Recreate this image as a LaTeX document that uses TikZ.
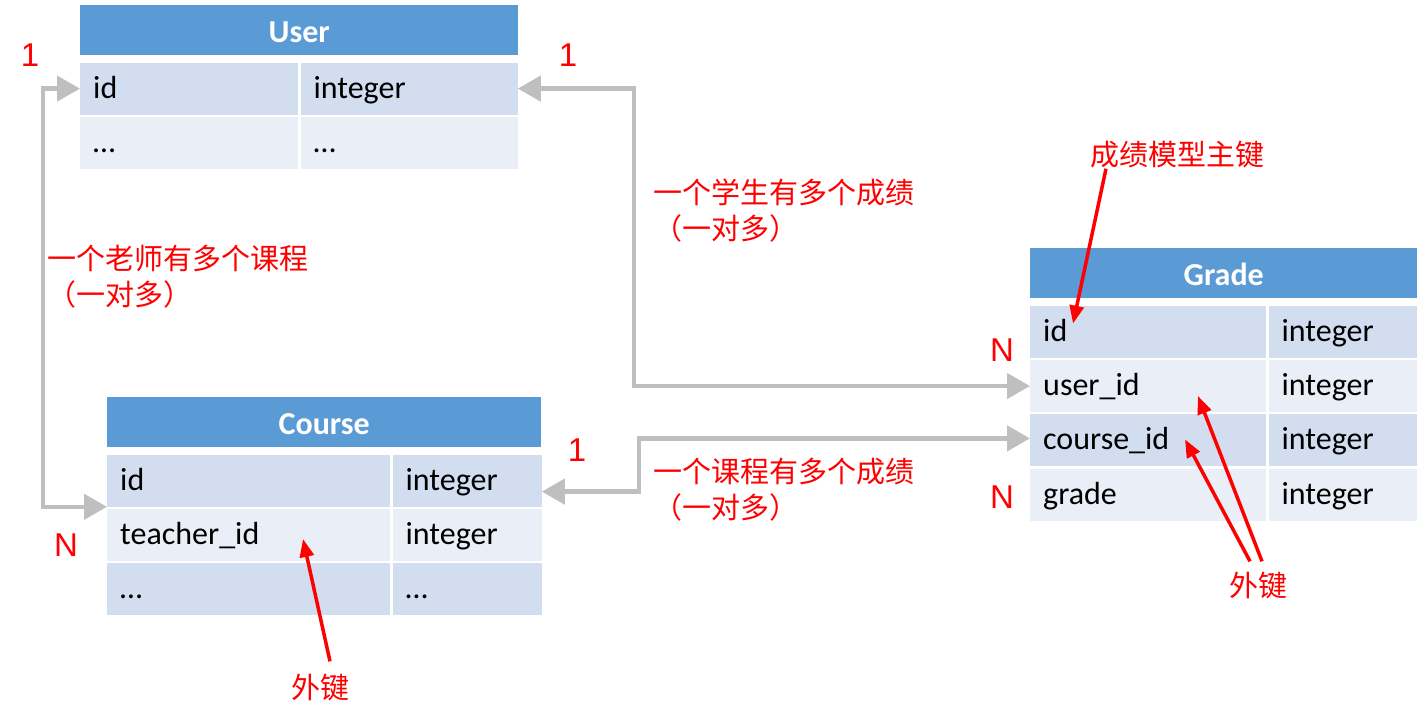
\documentclass[tikz,border=0pt]{standalone}
\usepackage{fontspec}
\setmainfont{Carlito}
\newfontfamily\cjk{Noto Sans CJK SC}
\newfontfamily\numfont{Liberation Sans}
\usetikzlibrary{arrows.meta,positioning}

\definecolor{hdrblue}{HTML}{5B9BD5}
\definecolor{rowdark}{HTML}{D2DEEF}
\definecolor{rowlight}{HTML}{EAEFF7}
\definecolor{linkgray}{HTML}{BFBFBF}

\begin{document}
\begin{tikzpicture}[
    x=1pt, y=-1pt,
    font=\fontsize{32}{38}\selectfont,
    % --- node styles ---
    hdr/.style = {rectangle, fill=hdrblue, text=white,
                  font=\fontsize{32}{38}\selectfont\bfseries,
                  minimum height=50pt, text height=24pt, text depth=0pt,
                  inner sep=0pt, anchor=north west},
    cell/.style = {rectangle, align=left,
                   inner xsep=13pt, inner ysep=0pt,
                   minimum height=52pt,
                   text height=24pt, text depth=5pt},
    link/.style = {{Triangle[length=23pt,width=25pt]}-{Triangle[length=23pt,width=25pt]},
                   draw=linkgray, line width=4.5pt},
    fkarrow/.style = {-{Triangle[length=18pt,width=14pt]}, draw=red, line width=3.5pt},
    notelbl/.style = {text=red, inner sep=0pt, font=\cjk\fontsize{29}{36}\selectfont},
    relnote/.style = {notelbl, align=left, anchor=west},
    card/.style = {text=red, inner sep=0pt, font=\numfont\fontsize{33}{36}\selectfont},
]

\path[use as bounding box, fill=white] (0,0) rectangle (1423,720);

%============ USER ============
\node (user) [hdr, minimum width=438pt] at (80,5) {User};
\node (user-1-1) [cell, fill=rowdark, text width=192pt,
                  below right=7pt and 0pt of user.south west] {id};
\node (user-1-2) [cell, fill=rowdark, text width=191pt, right=2pt of user-1-1] {integer};
\node (user-2-1) [cell, fill=rowlight, text width=192pt, below=2pt of user-1-1] {\ldots};
\node (user-2-2) [cell, fill=rowlight, text width=191pt, right=2pt of user-2-1] {\ldots};

%============ COURSE ============
\node (course) [hdr, minimum width=434pt] at (107,397) {Course};
\node (course-1-1) [cell, fill=rowdark, text width=257pt,
                    below right=7pt and 0pt of course.south west] {id};
\node (course-1-2) [cell, fill=rowdark, text width=123pt, right=2pt of course-1-1] {integer};
\node (course-2-1) [cell, fill=rowlight, text width=257pt, below=2pt of course-1-1] {teacher\_id};
\node (course-2-2) [cell, fill=rowlight, text width=123pt, right=2pt of course-2-1] {integer};
\node (course-3-1) [cell, fill=rowdark, text width=257pt, below=2pt of course-2-1] {\ldots};
\node (course-3-2) [cell, fill=rowdark, text width=123pt, right=2pt of course-3-1] {\ldots};

%============ GRADE ============
\node (grade) [hdr, minimum width=387pt] at (1030,248) {Grade};
\node (grade-1-1) [cell, fill=rowdark, text width=210pt,
                   below right=7pt and 0pt of grade.south west] {id};
\node (grade-1-2) [cell, fill=rowdark, text width=122pt, right=2pt of grade-1-1] {integer};
\node (grade-2-1) [cell, fill=rowlight, text width=210pt, below=2pt of grade-1-1] {user\_id};
\node (grade-2-2) [cell, fill=rowlight, text width=122pt, right=2pt of grade-2-1] {integer};
\node (grade-3-1) [cell, fill=rowdark, text width=210pt, below=2pt of grade-2-1] {course\_id};
\node (grade-3-2) [cell, fill=rowdark, text width=122pt, right=2pt of grade-3-1] {integer};
\node (grade-4-1) [cell, fill=rowlight, text width=210pt, below=2pt of grade-3-1] {grade};
\node (grade-4-2) [cell, fill=rowlight, text width=122pt, right=2pt of grade-4-1] {integer};

%============ RELATIONS ============
\draw[link] (user-1-1.west) -- ++(-37,0) |- (course-1-1.south west);
\draw[link] (user-1-2.east) -- ++(116,0) |- (grade-2-1.west);
\draw[link] ([yshift=-11pt]course-1-2.east) -- ++(97,0) |- ([yshift=2pt]grade-3-1.west);

\node (rel-uc) [relnote] at (47,277) {一个老师有多个课程\\（一对多）};
\node (rel-ug) [relnote] at (653,211) {一个学生有多个成绩\\（一对多）};
\node (rel-cg) [relnote] at (653,490) {一个课程有多个成绩\\（一对多）};

% cardinalities
\node (card-ul) [card] at (30,55) {1};
\node (card-cl) [card] at (66,545) {N};
\node (card-ur) [card] at (568,55) {1};
\node (card-gu) [card] at (1002,350) {N};
\node (card-cr) [card] at (577,450) {1};
\node (card-gc) [card] at (1002,497) {N};

%============ KEY NOTES ============
\node (pklbl) [notelbl] at (1177,155) {成绩模型主键};
\node (fkclbl) [notelbl] at (320,687) {外键};
\node (fkglbl) [notelbl] at (1258,585) {外键};

\draw[fkarrow] ([xshift=-71pt]pklbl.south) -- ([xshift=43pt,yshift=8pt]grade-1-1.west);
\draw[fkarrow] ([xshift=10pt,yshift=12pt]fkclbl.north) -- ([xshift=196pt,yshift=-4pt]course-2-1.west);
\draw[fkarrow] ([xshift=4pt,yshift=10pt]fkglbl.north) -- ([xshift=168pt,yshift=-10pt]grade-2-1.west);
\draw[fkarrow] ([xshift=-8pt,yshift=10pt]fkglbl.north) -- ([xshift=155pt,yshift=1pt]grade-3-1.west);

\end{tikzpicture}
\end{document}
